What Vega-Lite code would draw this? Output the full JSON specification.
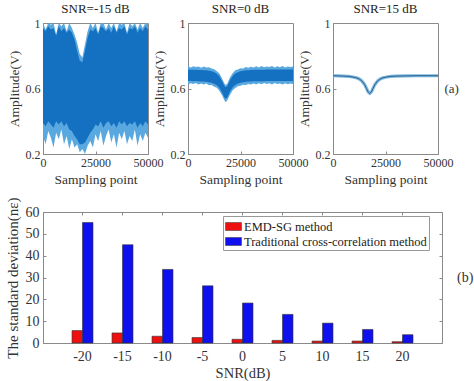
{
  "$schema": "https://vega.github.io/schema/vega-lite/v6.json",
  "background": "white",
  "padding": {"left": 4, "top": 2, "right": 2, "bottom": 2},
  "config": {
    "font": "Liberation Serif",
    "view": {"stroke": "#8a8a8a", "strokeWidth": 1},
    "axis": {
      "labelFont": "Liberation Serif", "titleFont": "Liberation Serif",
      "labelColor": "#333333", "titleColor": "#333333",
      "domainColor": "#8a8a8a", "tickColor": "#8a8a8a",
      "grid": false, "titleFontWeight": "normal",
      "labelFlush": false, "labelOverlap": false,
      "labelFontSize": 12, "titleFontSize": 13.5,
      "tickSize": -3, "labelPadding": 6
    },
    "axisX": {"labelFont": "Liberation Serif", "titleFont": "Liberation Serif", "titleFontWeight": "normal"},
    "axisY": {"labelFont": "Liberation Serif", "titleFont": "Liberation Serif", "titleFontWeight": "normal"},
    "axisQuantitative": {"labelFont": "Liberation Serif", "titleFont": "Liberation Serif", "titleFontWeight": "normal"},
    "title": {"font": "Liberation Serif", "fontWeight": "normal", "fontSize": 13, "color": "#222222", "offset": 1},
    "legend": {"labelFont": "Liberation Serif"}
  },
  "datasets": {
    "noisy": [
      {"snr": -15, "x": 0, "olo": 0.31, "ohi": 1.0, "clo": 0.39, "chi": 0.97},
      {"snr": -15, "x": 1250, "olo": 0.26, "ohi": 0.96, "clo": 0.37, "chi": 0.95},
      {"snr": -15, "x": 2500, "olo": 0.34, "ohi": 1.0, "clo": 0.40, "chi": 0.98},
      {"snr": -15, "x": 3750, "olo": 0.30, "ohi": 0.99, "clo": 0.38, "chi": 0.96},
      {"snr": -15, "x": 5000, "olo": 0.24, "ohi": 1.0, "clo": 0.36, "chi": 0.97},
      {"snr": -15, "x": 6250, "olo": 0.33, "ohi": 0.93, "clo": 0.40, "chi": 0.92},
      {"snr": -15, "x": 7500, "olo": 0.29, "ohi": 1.0, "clo": 0.38, "chi": 0.98},
      {"snr": -15, "x": 8750, "olo": 0.35, "ohi": 0.98, "clo": 0.40, "chi": 0.95},
      {"snr": -15, "x": 10000, "olo": 0.26, "ohi": 1.0, "clo": 0.37, "chi": 0.97},
      {"snr": -15, "x": 11250, "olo": 0.31, "ohi": 0.95, "clo": 0.39, "chi": 0.94},
      {"snr": -15, "x": 12500, "olo": 0.23, "ohi": 1.0, "clo": 0.35, "chi": 0.96},
      {"snr": -15, "x": 13750, "olo": 0.29, "ohi": 0.97, "clo": 0.34, "chi": 0.94},
      {"snr": -15, "x": 15000, "olo": 0.24, "ohi": 0.93, "clo": 0.31, "chi": 0.90},
      {"snr": -15, "x": 16250, "olo": 0.26, "ohi": 0.88, "clo": 0.29, "chi": 0.83},
      {"snr": -15, "x": 17500, "olo": 0.21, "ohi": 0.81, "clo": 0.26, "chi": 0.77},
      {"snr": -15, "x": 18750, "olo": 0.23, "ohi": 0.79, "clo": 0.26, "chi": 0.76},
      {"snr": -15, "x": 20000, "olo": 0.20, "ohi": 0.87, "clo": 0.27, "chi": 0.83},
      {"snr": -15, "x": 21250, "olo": 0.25, "ohi": 0.95, "clo": 0.30, "chi": 0.91},
      {"snr": -15, "x": 22500, "olo": 0.28, "ohi": 1.0, "clo": 0.33, "chi": 0.96},
      {"snr": -15, "x": 23750, "olo": 0.24, "ohi": 0.97, "clo": 0.35, "chi": 0.95},
      {"snr": -15, "x": 25000, "olo": 0.32, "ohi": 1.0, "clo": 0.38, "chi": 0.97},
      {"snr": -15, "x": 26250, "olo": 0.28, "ohi": 0.94, "clo": 0.37, "chi": 0.93},
      {"snr": -15, "x": 27500, "olo": 0.34, "ohi": 1.0, "clo": 0.40, "chi": 0.98},
      {"snr": -15, "x": 28750, "olo": 0.25, "ohi": 1.0, "clo": 0.36, "chi": 0.97},
      {"snr": -15, "x": 30000, "olo": 0.31, "ohi": 0.96, "clo": 0.39, "chi": 0.95},
      {"snr": -15, "x": 31250, "olo": 0.35, "ohi": 1.0, "clo": 0.40, "chi": 0.97},
      {"snr": -15, "x": 32500, "olo": 0.27, "ohi": 0.97, "clo": 0.37, "chi": 0.94},
      {"snr": -15, "x": 33750, "olo": 0.32, "ohi": 1.0, "clo": 0.39, "chi": 0.98},
      {"snr": -15, "x": 35000, "olo": 0.24, "ohi": 0.95, "clo": 0.36, "chi": 0.94},
      {"snr": -15, "x": 36250, "olo": 0.33, "ohi": 1.0, "clo": 0.40, "chi": 0.97},
      {"snr": -15, "x": 37500, "olo": 0.29, "ohi": 0.99, "clo": 0.38, "chi": 0.96},
      {"snr": -15, "x": 38750, "olo": 0.34, "ohi": 1.0, "clo": 0.40, "chi": 0.98},
      {"snr": -15, "x": 40000, "olo": 0.26, "ohi": 0.94, "clo": 0.37, "chi": 0.93},
      {"snr": -15, "x": 41250, "olo": 0.31, "ohi": 1.0, "clo": 0.39, "chi": 0.97},
      {"snr": -15, "x": 42500, "olo": 0.28, "ohi": 0.98, "clo": 0.38, "chi": 0.96},
      {"snr": -15, "x": 43750, "olo": 0.35, "ohi": 1.0, "clo": 0.40, "chi": 0.98},
      {"snr": -15, "x": 45000, "olo": 0.25, "ohi": 0.96, "clo": 0.36, "chi": 0.94},
      {"snr": -15, "x": 46250, "olo": 0.32, "ohi": 1.0, "clo": 0.39, "chi": 0.97},
      {"snr": -15, "x": 47500, "olo": 0.28, "ohi": 0.97, "clo": 0.37, "chi": 0.95},
      {"snr": -15, "x": 48750, "olo": 0.33, "ohi": 1.0, "clo": 0.40, "chi": 0.98},
      {"snr": -15, "x": 50000, "olo": 0.30, "ohi": 1.0, "clo": 0.38, "chi": 0.96},
      {"snr": 0, "x": 0, "olo": 0.625, "ohi": 0.738, "clo": 0.646, "chi": 0.716},
      {"snr": 0, "x": 1250, "olo": 0.632, "ohi": 0.729, "clo": 0.648, "chi": 0.714},
      {"snr": 0, "x": 2500, "olo": 0.627, "ohi": 0.736, "clo": 0.645, "chi": 0.715},
      {"snr": 0, "x": 3750, "olo": 0.633, "ohi": 0.731, "clo": 0.646, "chi": 0.714},
      {"snr": 0, "x": 5000, "olo": 0.624, "ohi": 0.735, "clo": 0.644, "chi": 0.713},
      {"snr": 0, "x": 6250, "olo": 0.630, "ohi": 0.727, "clo": 0.643, "chi": 0.713},
      {"snr": 0, "x": 7500, "olo": 0.625, "ohi": 0.734, "clo": 0.642, "chi": 0.712},
      {"snr": 0, "x": 8750, "olo": 0.631, "ohi": 0.729, "clo": 0.641, "chi": 0.711},
      {"snr": 0, "x": 10000, "olo": 0.620, "ohi": 0.730, "clo": 0.638, "chi": 0.708},
      {"snr": 0, "x": 11250, "olo": 0.622, "ohi": 0.722, "clo": 0.635, "chi": 0.705},
      {"snr": 0, "x": 12500, "olo": 0.611, "ohi": 0.718, "clo": 0.629, "chi": 0.699},
      {"snr": 0, "x": 13750, "olo": 0.605, "ohi": 0.706, "clo": 0.620, "chi": 0.690},
      {"snr": 0, "x": 15000, "olo": 0.585, "ohi": 0.692, "clo": 0.603, "chi": 0.673},
      {"snr": 0, "x": 16250, "olo": 0.557, "ohi": 0.660, "clo": 0.574, "chi": 0.644},
      {"snr": 0, "x": 17500, "olo": 0.524, "ohi": 0.628, "clo": 0.542, "chi": 0.612},
      {"snr": 0, "x": 18000, "olo": 0.516, "ohi": 0.622, "clo": 0.538, "chi": 0.608},
      {"snr": 0, "x": 18750, "olo": 0.530, "ohi": 0.631, "clo": 0.547, "chi": 0.617},
      {"snr": 0, "x": 20000, "olo": 0.562, "ohi": 0.668, "clo": 0.581, "chi": 0.651},
      {"snr": 0, "x": 21250, "olo": 0.590, "ohi": 0.693, "clo": 0.607, "chi": 0.677},
      {"snr": 0, "x": 22500, "olo": 0.603, "ohi": 0.711, "clo": 0.622, "chi": 0.692},
      {"snr": 0, "x": 23750, "olo": 0.614, "ohi": 0.716, "clo": 0.630, "chi": 0.700},
      {"snr": 0, "x": 25000, "olo": 0.617, "ohi": 0.724, "clo": 0.635, "chi": 0.705},
      {"snr": 0, "x": 26250, "olo": 0.623, "ohi": 0.722, "clo": 0.638, "chi": 0.708},
      {"snr": 0, "x": 27500, "olo": 0.622, "ohi": 0.731, "clo": 0.641, "chi": 0.711},
      {"snr": 0, "x": 28750, "olo": 0.628, "ohi": 0.727, "clo": 0.642, "chi": 0.712},
      {"snr": 0, "x": 30000, "olo": 0.624, "ohi": 0.733, "clo": 0.643, "chi": 0.713},
      {"snr": 0, "x": 31250, "olo": 0.631, "ohi": 0.728, "clo": 0.644, "chi": 0.714},
      {"snr": 0, "x": 32500, "olo": 0.625, "ohi": 0.736, "clo": 0.644, "chi": 0.714},
      {"snr": 0, "x": 33750, "olo": 0.632, "ohi": 0.729, "clo": 0.645, "chi": 0.715},
      {"snr": 0, "x": 35000, "olo": 0.626, "ohi": 0.737, "clo": 0.645, "chi": 0.715},
      {"snr": 0, "x": 36250, "olo": 0.633, "ohi": 0.730, "clo": 0.645, "chi": 0.715},
      {"snr": 0, "x": 37500, "olo": 0.627, "ohi": 0.735, "clo": 0.646, "chi": 0.716},
      {"snr": 0, "x": 38750, "olo": 0.632, "ohi": 0.731, "clo": 0.646, "chi": 0.716},
      {"snr": 0, "x": 40000, "olo": 0.624, "ohi": 0.738, "clo": 0.646, "chi": 0.716},
      {"snr": 0, "x": 41250, "olo": 0.633, "ohi": 0.728, "clo": 0.646, "chi": 0.716},
      {"snr": 0, "x": 42500, "olo": 0.627, "ohi": 0.736, "clo": 0.646, "chi": 0.716},
      {"snr": 0, "x": 43750, "olo": 0.631, "ohi": 0.730, "clo": 0.646, "chi": 0.716},
      {"snr": 0, "x": 45000, "olo": 0.625, "ohi": 0.737, "clo": 0.646, "chi": 0.716},
      {"snr": 0, "x": 46250, "olo": 0.632, "ohi": 0.729, "clo": 0.646, "chi": 0.716},
      {"snr": 0, "x": 47500, "olo": 0.626, "ohi": 0.735, "clo": 0.646, "chi": 0.716},
      {"snr": 0, "x": 48750, "olo": 0.630, "ohi": 0.731, "clo": 0.646, "chi": 0.716},
      {"snr": 0, "x": 50000, "olo": 0.627, "ohi": 0.734, "clo": 0.646, "chi": 0.716}
    ],
    "clean": [
      {"x": 0, "v": 0.678}, {"x": 2500, "v": 0.677}, {"x": 5000, "v": 0.676},
      {"x": 7500, "v": 0.674}, {"x": 10000, "v": 0.669}, {"x": 11250, "v": 0.665},
      {"x": 12500, "v": 0.658}, {"x": 13750, "v": 0.646}, {"x": 15000, "v": 0.625},
      {"x": 16000, "v": 0.599}, {"x": 16750, "v": 0.579}, {"x": 17500, "v": 0.570},
      {"x": 18250, "v": 0.579}, {"x": 19000, "v": 0.599}, {"x": 20000, "v": 0.625},
      {"x": 21250, "v": 0.646}, {"x": 22500, "v": 0.658}, {"x": 23750, "v": 0.665},
      {"x": 25000, "v": 0.669}, {"x": 27500, "v": 0.674}, {"x": 30000, "v": 0.676},
      {"x": 35000, "v": 0.677}, {"x": 40000, "v": 0.678}, {"x": 45000, "v": 0.678},
      {"x": 50000, "v": 0.678}
    ],
    "bars": [
      {"snr": -20, "method": "EMD-SG method", "std": 5.7},
      {"snr": -20, "method": "Traditional cross-correlation method", "std": 55.2},
      {"snr": -15, "method": "EMD-SG method", "std": 4.6},
      {"snr": -15, "method": "Traditional cross-correlation method", "std": 45.0},
      {"snr": -10, "method": "EMD-SG method", "std": 3.1},
      {"snr": -10, "method": "Traditional cross-correlation method", "std": 33.7},
      {"snr": -5, "method": "EMD-SG method", "std": 2.5},
      {"snr": -5, "method": "Traditional cross-correlation method", "std": 26.2},
      {"snr": 0, "method": "EMD-SG method", "std": 1.7},
      {"snr": 0, "method": "Traditional cross-correlation method", "std": 18.3},
      {"snr": 5, "method": "EMD-SG method", "std": 1.2},
      {"snr": 5, "method": "Traditional cross-correlation method", "std": 13.1},
      {"snr": 10, "method": "EMD-SG method", "std": 0.9},
      {"snr": 10, "method": "Traditional cross-correlation method", "std": 9.1},
      {"snr": 15, "method": "EMD-SG method", "std": 0.9},
      {"snr": 15, "method": "Traditional cross-correlation method", "std": 6.2},
      {"snr": 20, "method": "EMD-SG method", "std": 0.6},
      {"snr": 20, "method": "Traditional cross-correlation method", "std": 3.8}
    ]
  },
  "spacing": 10,
  "vconcat": [
    {
      "spacing": 40,
      "bounds": "flush",
      "hconcat": [
        {
          "width": 105, "height": 131,
          "title": "SNR=-15 dB",
          "data": {"name": "noisy"},
          "transform": [{"filter": "datum.snr == -15"}],
          "layer": [
            {
              "mark": {"type": "area", "color": "#5aa8e0", "clip": true},
              "encoding": {
                "x": {"field": "x", "type": "quantitative", "scale": {"domain": [0, 50000]},
                      "axis": {"values": [0, 25000, 50000], "format": "d", "title": "Sampling point", "labelFont": "Liberation Serif", "titleFont": "Liberation Serif", "titleFontWeight": "normal"}},
                "y": {"field": "olo", "type": "quantitative", "scale": {"domain": [0.2, 1]},
                      "axis": {"values": [0.2, 0.6, 1], "format": ".1~f", "title": "Amplitude(V)", "labelFont": "Liberation Serif", "titleFont": "Liberation Serif", "titleFontWeight": "normal"}},
                "y2": {"field": "ohi"}
              }
            },
            {
              "mark": {"type": "area", "color": "#1470c0", "clip": true},
              "encoding": {
                "x": {"field": "x", "type": "quantitative"},
                "y": {"field": "clo", "type": "quantitative"},
                "y2": {"field": "chi"}
              }
            }
          ]
        },
        {
          "width": 105, "height": 131,
          "title": "SNR=0 dB",
          "data": {"name": "noisy"},
          "transform": [{"filter": "datum.snr == 0"}],
          "layer": [
            {
              "mark": {"type": "area", "color": "#5aa8e0", "clip": true},
              "encoding": {
                "x": {"field": "x", "type": "quantitative", "scale": {"domain": [0, 50000]},
                      "axis": {"values": [0, 25000, 50000], "format": "d", "title": "Sampling point", "labelFont": "Liberation Serif", "titleFont": "Liberation Serif", "titleFontWeight": "normal"}},
                "y": {"field": "olo", "type": "quantitative", "scale": {"domain": [0.2, 1]},
                      "axis": {"values": [0.2, 0.6, 1], "format": ".1~f", "title": "Amplitude(V)", "labelFont": "Liberation Serif", "titleFont": "Liberation Serif", "titleFontWeight": "normal"}},
                "y2": {"field": "ohi"}
              }
            },
            {
              "mark": {"type": "area", "color": "#1470c0", "clip": true},
              "encoding": {
                "x": {"field": "x", "type": "quantitative"},
                "y": {"field": "clo", "type": "quantitative"},
                "y2": {"field": "chi"}
              }
            }
          ]
        },
        {
          "width": 105, "height": 131,
          "title": "SNR=15 dB",
          "data": {"name": "clean"},
          "layer": [
            {
              "mark": {"type": "line", "color": "#7cb9e3", "strokeWidth": 3.2, "clip": true},
              "encoding": {
                "x": {"field": "x", "type": "quantitative", "scale": {"domain": [0, 50000]},
                      "axis": {"values": [0, 25000, 50000], "format": "d", "title": "Sampling point", "labelFont": "Liberation Serif", "titleFont": "Liberation Serif", "titleFontWeight": "normal"}},
                "y": {"field": "v", "type": "quantitative", "scale": {"domain": [0.2, 1]},
                      "axis": {"values": [0.2, 0.6, 1], "format": ".1~f", "title": "Amplitude(V)", "labelFont": "Liberation Serif", "titleFont": "Liberation Serif", "titleFontWeight": "normal"}}
              }
            },
            {
              "mark": {"type": "line", "color": "#2d5f86", "strokeWidth": 1, "clip": true},
              "encoding": {
                "x": {"field": "x", "type": "quantitative"},
                "y": {"field": "v", "type": "quantitative",
                      "axis": {"orient": "right", "labels": false, "ticks": false, "domain": false,
                               "title": "(a)", "titleAngle": 0, "titleAlign": "left", "titleBaseline": "middle",
                               "titlePadding": 6, "titleFontSize": 13, "titleFont": "Liberation Serif", "titleFontWeight": "normal"}}
              }
            }
          ],
          "resolve": {"axis": {"y": "independent"}}
        }
      ]
    },
    {
      "width": 399, "height": 131,
      "data": {"name": "bars"},
      "layer": [
        {
          "mark": {"type": "bar", "stroke": "#333333", "strokeWidth": 0.6},
          "encoding": {
            "x": {"field": "snr", "type": "ordinal",
                  "scale": {"paddingInner": 0.475, "paddingOuter": 0.725},
                  "axis": {"title": "SNR(dB)", "labelAngle": 0, "labelFontSize": 14, "titleFontSize": 14.5, "labelPadding": 9, "titlePadding": 3}},
            "xOffset": {"field": "method", "type": "nominal", "sort": ["EMD-SG method", "Traditional cross-correlation method"]},
            "y": {"field": "std", "type": "quantitative", "scale": {"domain": [0, 60]},
                  "axis": {"values": [0, 10, 20, 30, 40, 50, 60], "title": "The standard deviation(nε)", "labelFontSize": 14, "titleFontSize": 15, "labelPadding": 7, "titlePadding": 5}},
            "color": {"field": "method", "type": "nominal",
                      "scale": {"domain": ["EMD-SG method", "Traditional cross-correlation method"], "range": ["#ee1010", "#1010ee"]},
                      "legend": {"orient": "none", "legendX": 180, "legendY": 193, "title": null,
                                 "strokeColor": "#999999", "fillColor": "white", "padding": 2,
                                 "symbolType": "M-1,-0.5H1V0.5H-1Z", "symbolSize": 256,
                                 "symbolStrokeColor": "#333333", "symbolStrokeWidth": 0.5, "symbolOpacity": 1,
                                 "labelFontSize": 12.5, "labelColor": "#222222", "labelLimit": 0, "rowPadding": -3, "labelOffset": 2}}
          }
        },
        {
          "mark": {"type": "bar", "opacity": 0},
          "encoding": {
            "x": {"field": "snr", "type": "ordinal",
                  "axis": {"orient": "top", "labels": false, "domain": false, "title": null, "tickSize": -3}},
            "y": {"field": "std", "type": "quantitative",
                  "axis": {"orient": "right", "labels": false, "domain": false, "values": [0, 10, 20, 30, 40, 50, 60], "tickSize": -3,
                           "title": "(b)", "titleAngle": 0, "titleAlign": "left", "titleBaseline": "middle",
                           "titlePadding": 14, "titleFontSize": 14}}
          }
        }
      ],
      "resolve": {"axis": {"x": "independent", "y": "independent"}}
    }
  ]
}
